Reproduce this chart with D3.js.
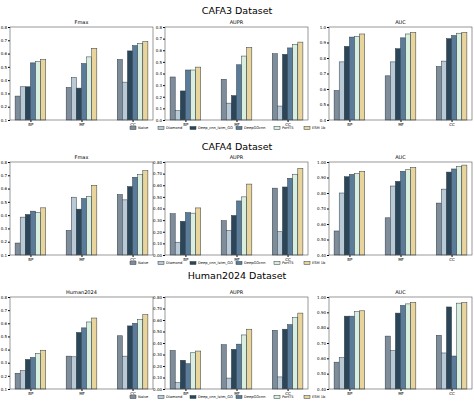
<!DOCTYPE html>
<html>
<head>
<meta charset="utf-8">
<script src="https://cdn.jsdelivr.net/npm/d3@7"></script>
<style>
body { margin: 0; background: #fff; }
text { font-family: "DejaVu Sans", sans-serif; }
</style>
</head>
<body>
<svg id="chart" width="474" height="402"></svg>
<script>
let groups = ["BP", "MF", "CC"];
let methods = ["Naive", "Diamond", "Deep_cnn_lstm_GO", "DeepGOcnn", "PortT5", "ESM 1b"];
let colors = ["#7f8c9a", "#b9cad6", "#2b4658", "#5b7b9b", "#d8efdf", "#e9d49b"];
let datasets = ["CAFA3 Dataset", "CAFA4 Dataset", "Human2024 Dataset"];
let panelTitles = [["Fmax", "AUPR", "AUC"], ["Fmax", "AUPR", "AUC"], ["Human2024", "AUPR", "AUC"]];

// values per panel: [BP, MF, CC] x methods
let cafa3_fmax = [[.28,.35,.35,.53,.54,.555],[.345,.42,.34,.525,.575,.64],[.555,.385,.62,.66,.675,.69]];
let cafa3_aupr = [[.37,.08,.25,.43,.43,.455],[.35,.145,.21,.475,.55,.625],[.57,.12,.565,.62,.65,.67]];
let cafa3_auc = [[.59,.775,.875,.935,.94,.955],[.685,.775,.86,.93,.955,.965],[.745,.78,.925,.945,.96,.965]];
let cafa4_fmax = [[.19,.385,.405,.43,.42,.455],[.285,.535,.445,.525,.54,.625],[.555,.515,.615,.685,.705,.735]];
let cafa4_aupr = [[.355,.11,.29,.365,.36,.405],[.295,.21,.34,.465,.5,.61],[.575,.2,.585,.66,.695,.745]];
let cafa4_auc = [[.555,.80,.905,.92,.925,.94],[.64,.845,.875,.94,.95,.965],[.735,.825,.935,.955,.97,.98]];
let human_fmax = [[.22,.24,.325,.34,.37,.395],[.35,.345,.53,.565,.61,.64],[.505,.35,.58,.6,.63,.665]];
let human_aupr = [[.335,.055,.25,.22,.315,.33],[.385,.095,.345,.39,.47,.52],[.51,.105,.52,.56,.62,.66]];
let human_auc = [[.575,.605,.875,.875,.905,.91],[.745,.65,.895,.945,.955,.965],[.75,.635,.935,.615,.96,.965]];

let panels = [[cafa3_fmax, cafa3_aupr, cafa3_auc], [cafa4_fmax, cafa4_aupr, cafa4_auc], [human_fmax, human_aupr, human_auc]];
let yDomains = [[0.1, 0.8], [0, 0.8], [0.4, 1.0]];
let yTicks = [[0.1,0.2,0.3,0.4,0.5,0.6,0.7,0.8], [0,0.1,0.2,0.3,0.4,0.5,0.6,0.7,0.8], [0.4,0.5,0.6,0.7,0.8,0.9,1.0]];
let yFormats = [[".1f", ".1f", ".1f"], [".1f", ".2f", ".2f"], [".1f", ".2f", ".2f"]];

let svg = d3.select("#chart");
let colX = [[10, 153], [165, 308], [329, 472]];
let rowY = [[27, 120], [162, 255], [297, 389]];
let titleY = [14, 150, 279];
let legendX = [130, 158, 190, 236, 274, 304];

for (let r = 0; r < 3; r++) {
	svg.append("text").attr("x", 237).attr("y", titleY[r]).attr("text-anchor", "middle")
		.attr("font-size", 9.5).text(datasets[r]);
	for (let c = 0; c < 3; c++) {
		let x0 = colX[c][0], x1 = colX[c][1], y0 = rowY[r][0], y1 = rowY[r][1];
		let g = svg.append("g");
		let x = d3.scaleLinear().domain([-0.4, 2.4]).range([x0, x1]);
		let y = d3.scaleLinear().domain(yDomains[c]).range([y1, y0]);
		let bw = x(0.1) - x(0);
		panels[r][c].forEach(function(vals, gi) {
			vals.forEach(function(v, mi) {
				g.append("rect")
					.attr("x", x(gi - 0.3 + mi * 0.1))
					.attr("y", y(v))
					.attr("width", bw)
					.attr("height", y1 - y(v))
					.attr("fill", colors[mi])
					.attr("stroke", "#2d3a44").attr("stroke-width", 0.5);
			});
		});
		let ya = g.append("g").attr("transform", "translate(" + x0 + ",0)")
			.call(d3.axisLeft(y).tickValues(yTicks[c]).tickFormat(d3.format(yFormats[r][c])).tickSize(2).tickPadding(1));
		ya.selectAll("text").attr("font-size", 4);
		ya.select(".domain").remove();
		let xa = g.append("g").attr("transform", "translate(0," + y1 + ")")
			.call(d3.axisBottom(x).tickValues([0, 1, 2]).tickFormat(function(d) { return groups[d]; }).tickSize(2).tickPadding(1));
		xa.selectAll("text").attr("font-size", 4);
		xa.select(".domain").remove();
		g.append("rect").attr("x", x0).attr("y", y0).attr("width", x1 - x0).attr("height", y1 - y0)
			.attr("fill", "none").attr("stroke", "#555").attr("stroke-width", 0.6);
		g.append("text").attr("x", (x0 + x1) / 2).attr("y", y0 - 3).attr("text-anchor", "middle")
			.attr("font-size", 5).text(panelTitles[r][c]);
	}
	let ly = rowY[r][1] + 8;
	methods.forEach(function(m, i) {
		svg.append("rect").attr("x", legendX[i]).attr("y", ly - 1.5).attr("width", 6).attr("height", 3)
			.attr("fill", colors[i]).attr("stroke", "#2d3a44").attr("stroke-width", 0.5);
		svg.append("text").attr("x", legendX[i] + 8).attr("y", ly + 1.3).attr("font-size", 3.6).text(m);
	});
}
</script>
</body>
</html>
